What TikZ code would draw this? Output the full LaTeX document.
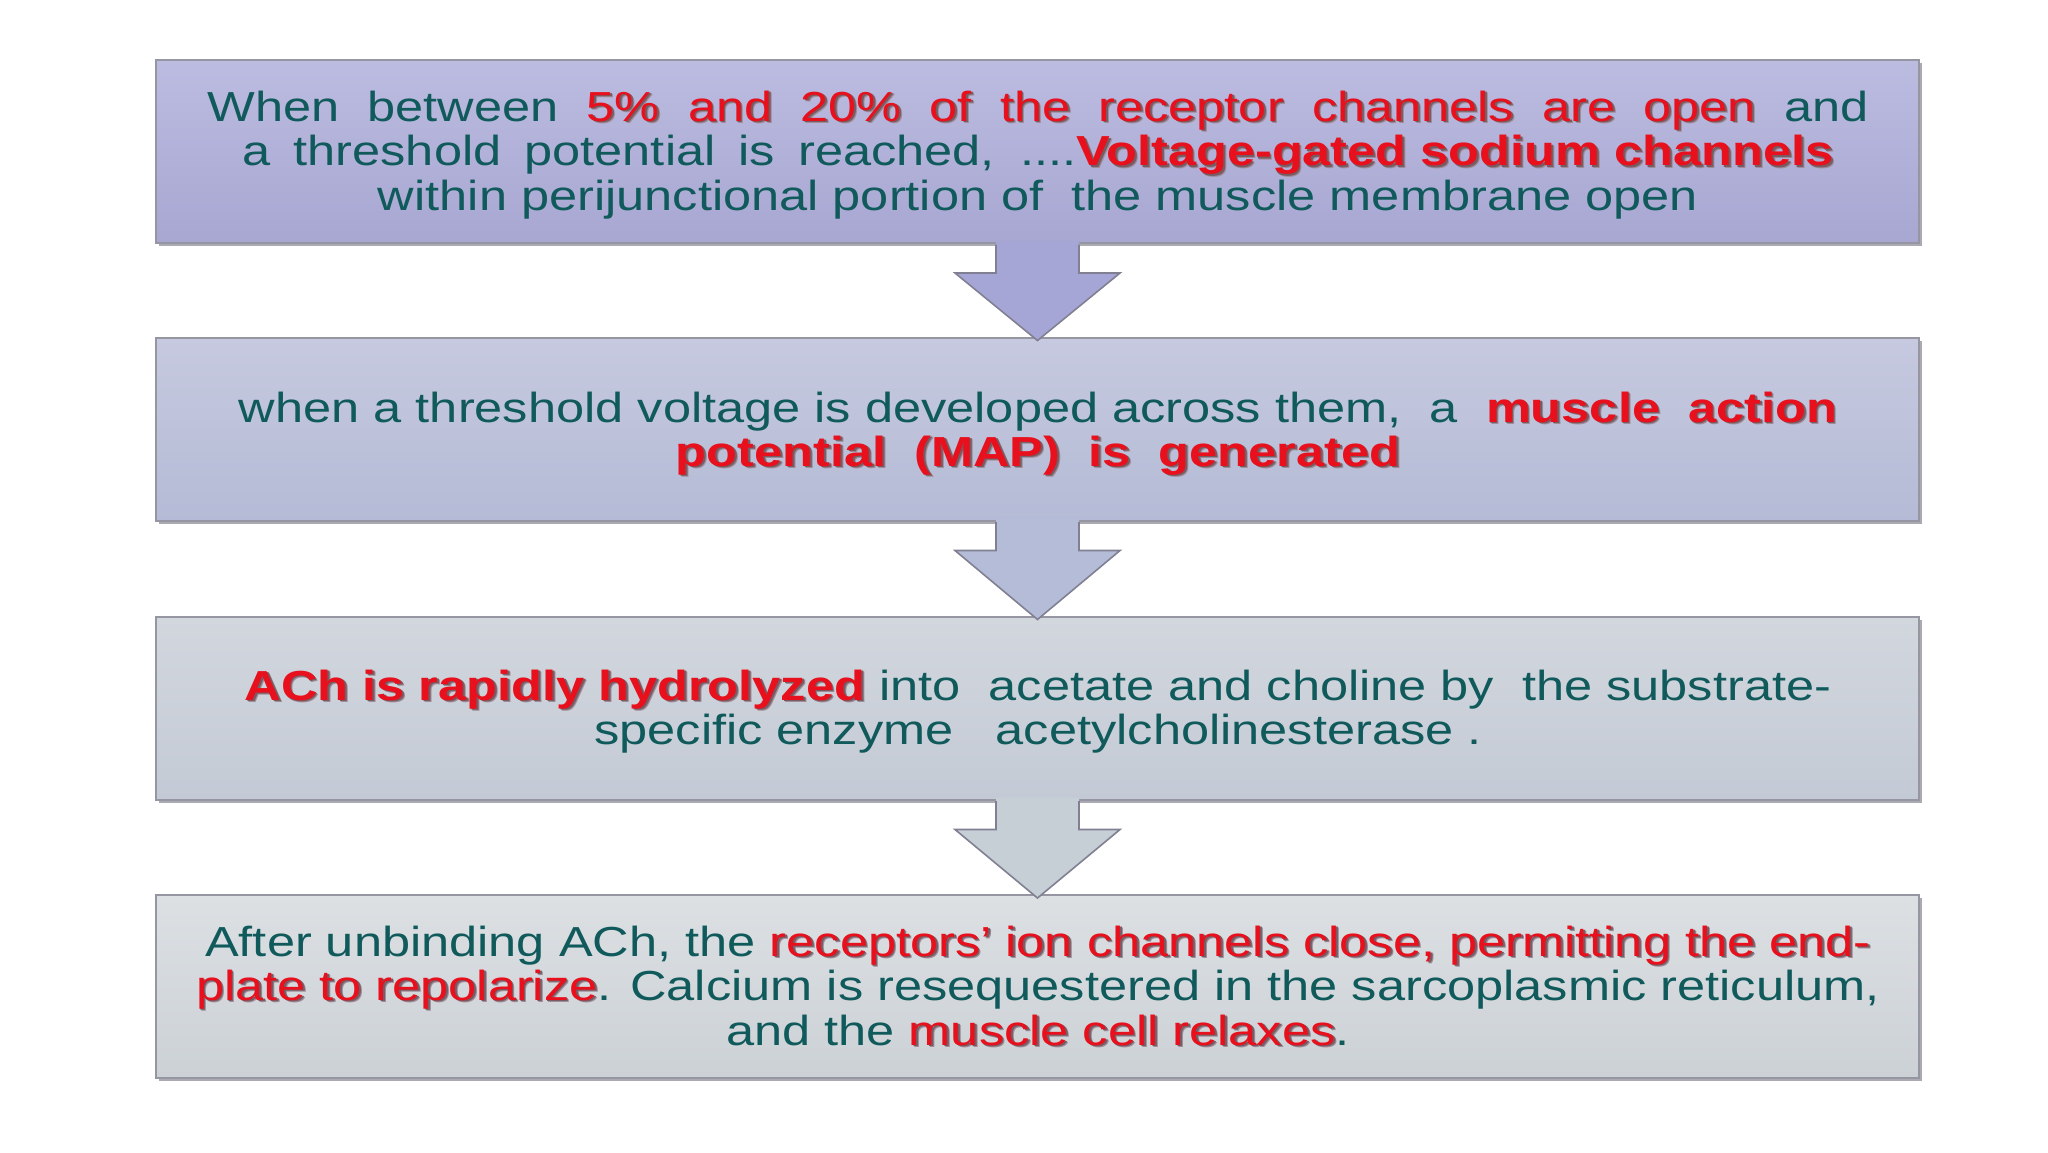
\documentclass[tikz,border=0pt]{standalone}
\usepackage{fontspec}
\setmainfont{Liberation Sans}[FakeStretch=1.203]
\usetikzlibrary{calc}
\definecolor{tealc}{RGB}{16,90,92}
\definecolor{redc}{RGB}{232,16,28}
\definecolor{shadc}{RGB}{118,92,100}
\definecolor{shadl}{RGB}{160,140,150}
\definecolor{boxline}{RGB}{150,150,162}
\definecolor{boxshadow}{RGB}{170,170,178}
\definecolor{arrline}{RGB}{128,128,146}
\definecolor{b1top}{RGB}{188,187,224}
\definecolor{b1bot}{RGB}{168,167,210}
\definecolor{b2top}{RGB}{198,201,223}
\definecolor{b2bot}{RGB}{181,187,214}
\definecolor{b3top}{RGB}{210,215,222}
\definecolor{b3bot}{RGB}{196,202,213}
\definecolor{b4top}{RGB}{220,224,227}
\definecolor{b4bot}{RGB}{204,209,214}
\definecolor{a1fill}{RGB}{166,166,214}
\definecolor{a2fill}{RGB}{180,188,216}
\definecolor{a3fill}{RGB}{198,206,214}
\newcommand\shd[1]{\mbox{\rlap{\kern1.4pt\raisebox{-1.4pt}{\textcolor{shadl}{#1}}}\rlap{\kern0.9pt\raisebox{-0.9pt}{\textcolor{shadc}{#1}}}\textcolor{redc}{#1}}}
\newcommand\shb[1]{\shd{\bfseries #1}}
\begin{document}
\begin{tikzpicture}[x=0.5pt,y=-0.5pt,
  box/.style={rectangle, draw=boxline, line width=1pt, minimum width=881.5pt, minimum height=91.5pt, inner sep=0pt},
  txt/.style={anchor=base, inner sep=0pt, text=tealc, font=\fontsize{21}{22.25}\selectfont},
  arredge/.style={draw=arrline, line width=0.8pt, line join=miter}]
\useasboundingbox[fill=white] (0,0) rectangle (2048,1152);

\foreach \y in {151.5,429,708,986.5}{
  \fill[boxshadow] (159,\y-88.5) rectangle (1922,\y+94.5);
}
\node[box, top color=b1top, bottom color=b1bot] (b1) at (1037.5,151.5) {};
\node[box, top color=b2top, bottom color=b2bot] (b2) at (1037.5,429) {};
\node[box, top color=b3top, bottom color=b3bot] (b3) at (1037.5,708) {};
\node[box, top color=b4top, bottom color=b4bot] (b4) at (1037.5,986.5) {};

% block arrows
\foreach \u/\v/\c in {b1/b2/a1fill, b2/b3/a2fill, b3/b4/a3fill}{
  \fill[\c] ($(\u.south)+(-41.5,-3)$) -- ($(\u.south)+(-41.5,29)$) -- ($(\u.south)+(-82.5,29)$)
     -- ($(\v.north)+(0,4)$) -- ($(\u.south)+(82.5,29)$) -- ($(\u.south)+(41.5,29)$) -- ($(\u.south)+(41.5,-3)$) -- cycle;
  \draw[arredge] ($(\u.south)+(-41.5,0.5)$) -- ($(\u.south)+(-41.5,29)$) -- ($(\u.south)+(-82.5,29)$)
     -- ($(\v.north)+(0,4)$) -- ($(\u.south)+(82.5,29)$) -- ($(\u.south)+(41.5,29)$) -- ($(\u.south)+(41.5,0.5)$);
}

% box 1 text
\node[txt] (l11) at (1038,121) {\makebox[830.5pt][s]{When between \shd{5\%} \shd{and} \shd{20\%} \shd{of} \shd{the} \shd{receptor} \shd{channels} \shd{are} \shd{open} and}};
\node[txt] (l12) at (1038,165.5) {\makebox[795.5pt][s]{a threshold potential is reached, ....\shb{Voltage-gated sodium channels}}};
\node[txt] (l13) at (1038,210) {within perijunctional portion of\ \ the muscle membrane open};

% box 2 text
\node[txt] (l21) at (1038,422) {when a threshold voltage is developed across them,\ \ a\ \ \shb{muscle\ \ action}};
\node[txt] (l22) at (1038,466) {\shb{potential\ \ (MAP)\ \ is\ \ generated}};

% box 3 text
\node[txt] (l31) at (1038,700) {\shb{ACh is rapidly hydrolyzed} into\ \ acetate and choline by\ \ the substrate-};
\node[txt] (l32) at (1038,744) {specific enzyme\ \ \ acetylcholinesterase .};

% box 4 text
\node[txt] (l41) at (1038,956) {After unbinding ACh, the \shd{receptors’ ion channels close, permitting the end-}};
\node[txt] (l42) at (1038,1000) {\shd{plate to repolarize}. Calcium is resequestered in the sarcoplasmic reticulum,};
\node[txt] (l43) at (1038,1045) {and the \shd{muscle cell relaxes}.};
\end{tikzpicture}
\end{document}
